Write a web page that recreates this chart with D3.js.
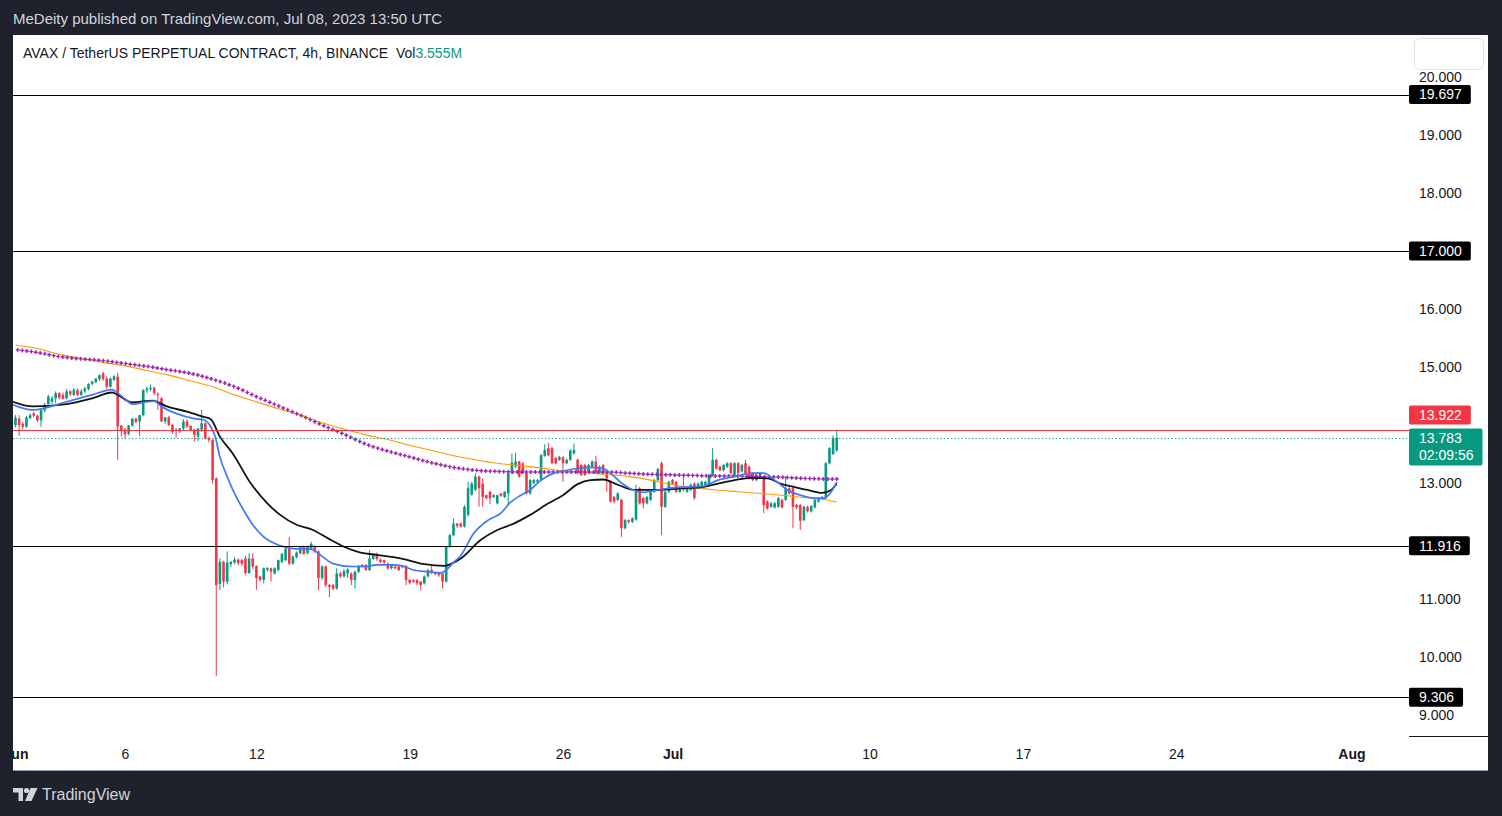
<!DOCTYPE html>
<html><head><meta charset="utf-8">
<script src="https://cdn.jsdelivr.net/npm/d3@7"></script>
<style>
html,body{margin:0;padding:0;background:#1f222d;overflow:hidden}
svg{display:block}
text{font-family:"Liberation Sans",Arial,sans-serif}
</style></head><body>
<svg id="c" width="1502" height="816"></svg>
<script>
// ---------------- DATA ----------------
const startTime = "2023-06-01T00:00:00Z";   // first 4h candle
// 4h candles: [open, high, low, close]
const candles = [
[14.00,14.17,13.96,14.13],[14.11,14.17,13.81,14.00],[14.02,14.05,13.93,13.97],[13.97,14.16,13.95,14.13],
[14.12,14.20,14.10,14.17],[14.20,14.23,14.13,14.16],[14.16,14.18,14.05,14.08],[14.08,14.28,13.97,14.26],
[14.25,14.38,14.22,14.35],[14.36,14.52,14.34,14.49],[14.40,14.50,14.36,14.46],[14.46,14.58,14.38,14.55],
[14.55,14.57,14.44,14.47],[14.52,14.56,14.44,14.45],[14.46,14.62,14.44,14.58],[14.58,14.60,14.50,14.53],
[14.52,14.64,14.50,14.61],[14.60,14.63,14.50,14.52],[14.52,14.62,14.50,14.58],[14.58,14.66,14.55,14.63],
[14.62,14.72,14.60,14.71],[14.71,14.76,14.68,14.75],[14.74,14.81,14.72,14.80],[14.79,14.87,14.76,14.86],
[14.89,14.92,14.76,14.79],[14.80,14.84,14.62,14.66],[14.66,14.82,14.64,14.80],[14.78,14.86,14.76,14.84],
[14.83,14.90,13.40,13.97],[13.99,14.00,13.80,13.91],[13.92,13.95,13.77,13.84],[13.85,14.00,13.82,13.99],
[13.99,14.12,13.97,14.11],[14.11,14.13,14.03,14.05],[14.06,14.17,13.81,14.17],[14.17,14.62,14.15,14.60],
[14.60,14.66,14.55,14.63],[14.62,14.70,14.58,14.64],[14.64,14.66,14.52,14.55],[14.54,14.56,14.26,14.52],
[14.46,14.48,14.05,14.06],[14.06,14.14,14.02,14.13],[14.13,14.16,13.98,14.00],[14.00,14.02,13.85,13.88],
[13.92,13.95,13.78,13.90],[13.89,13.95,13.86,13.94],[13.94,14.10,13.90,14.06],[14.06,14.10,13.95,13.97],
[13.98,14.00,13.90,13.91],[13.92,13.94,13.71,13.83],[13.80,13.95,13.72,13.94],[13.92,14.26,13.88,14.03],
[14.03,14.05,13.75,13.77],[13.78,13.80,13.70,13.74],[13.74,13.77,12.99,13.05],[13.08,13.10,9.67,11.24],
[11.26,11.70,11.15,11.64],[11.64,11.66,11.20,11.30],[11.30,11.82,11.25,11.63],[11.60,11.66,11.55,11.64],
[11.63,11.72,11.60,11.68],[11.68,11.70,11.58,11.62],[11.67,11.69,11.57,11.61],[11.70,11.74,11.42,11.45],
[11.45,11.79,11.43,11.70],[11.70,11.79,11.52,11.56],[11.57,11.58,11.16,11.36],[11.39,11.40,11.30,11.33],
[11.33,11.54,11.27,11.53],[11.50,11.55,11.47,11.53],[11.53,11.54,11.30,11.47],[11.44,11.55,11.42,11.53],
[11.50,11.68,11.48,11.67],[11.64,11.79,11.62,11.78],[11.67,11.90,11.65,11.87],[11.87,12.07,11.58,11.61],
[11.61,11.75,11.59,11.73],[11.72,11.82,11.70,11.80],[11.79,11.92,11.77,11.90],[11.90,11.92,11.76,11.78],
[11.79,11.92,11.77,11.90],[11.87,11.99,11.85,11.95],[11.90,11.93,11.80,11.82],[11.82,11.84,11.15,11.36],
[11.36,11.58,11.33,11.56],[11.56,11.58,11.20,11.24],[11.24,11.26,11.03,11.21],[11.24,11.26,11.15,11.18],
[11.18,11.53,11.16,11.44],[11.44,11.47,11.36,11.39],[11.39,11.52,11.37,11.48],[11.44,11.53,11.36,11.51],
[11.44,11.46,11.24,11.33],[11.33,11.49,11.18,11.47],[11.47,11.59,11.45,11.57],[11.59,11.60,11.54,11.56],
[11.59,11.60,11.48,11.50],[11.50,11.84,11.48,11.70],[11.69,11.78,11.67,11.76],[11.78,11.80,11.66,11.69],
[11.68,11.70,11.62,11.64],[11.67,11.68,11.60,11.63],[11.61,11.63,11.50,11.53],[11.53,11.60,11.51,11.59],
[11.56,11.57,11.51,11.53],[11.56,11.57,11.48,11.50],[11.55,11.58,11.53,11.57],[11.57,11.59,11.24,11.33],
[11.33,11.34,11.25,11.28],[11.33,11.34,11.28,11.30],[11.33,11.34,11.24,11.27],[11.30,11.31,11.15,11.24],
[11.27,11.41,11.25,11.39],[11.39,11.52,11.37,11.50],[11.50,11.59,11.43,11.45],[11.46,11.47,11.41,11.43],
[11.45,11.46,11.38,11.41],[11.44,11.45,11.18,11.30],[11.30,11.92,11.28,11.90],[11.90,12.12,11.88,12.10],
[12.10,12.39,12.08,12.30],[12.30,12.31,12.22,12.26],[12.30,12.32,12.23,12.25],[12.25,12.62,12.23,12.59],
[12.45,13.02,12.42,12.91],[12.80,13.02,12.78,12.99],[12.88,13.17,12.86,13.11],[13.11,13.13,12.59,12.91],
[12.99,13.08,12.59,12.76],[12.79,12.80,12.72,12.74],[12.85,12.86,12.64,12.74],[12.76,12.81,12.74,12.79],
[12.65,12.80,12.63,12.79],[12.82,12.83,12.76,12.78],[12.76,12.86,12.74,12.85],[12.82,13.18,12.62,13.17],
[13.17,13.51,13.15,13.35],[13.28,13.52,13.26,13.37],[13.37,13.38,13.09,13.11],[13.34,13.36,13.15,13.17],
[13.17,13.19,12.80,12.82],[12.82,13.07,12.80,13.05],[13.00,13.07,12.98,13.05],[13.02,13.07,13.00,13.05],
[13.05,13.50,13.03,13.48],[13.47,13.67,13.45,13.57],[13.60,13.69,13.46,13.48],[13.60,13.62,13.32,13.34],
[13.43,13.45,13.32,13.34],[13.40,13.47,13.38,13.45],[13.44,13.46,13.02,13.34],[13.34,13.42,13.32,13.40],
[13.40,13.58,13.38,13.56],[13.51,13.68,13.49,13.57],[13.40,13.42,13.15,13.17],[13.31,13.33,13.12,13.14],
[13.31,13.33,13.12,13.14],[13.19,13.33,13.17,13.31],[13.28,13.39,13.26,13.37],[13.37,13.47,13.15,13.17],
[13.17,13.30,13.15,13.28],[13.31,13.33,13.15,13.17],[13.22,13.24,12.85,13.08],[13.02,13.04,12.66,12.68],
[12.76,12.78,12.65,12.68],[12.71,12.84,12.69,12.82],[12.71,12.73,12.07,12.22],[12.22,12.38,12.20,12.36],
[12.36,12.37,12.30,12.33],[12.33,12.41,12.31,12.39],[12.37,12.97,12.35,12.88],[12.91,12.93,12.63,12.65],
[12.74,12.76,12.56,12.65],[12.65,12.78,12.63,12.76],[12.71,12.87,12.69,12.85],[12.85,13.07,12.83,13.05],
[13.05,13.26,13.03,13.24],[13.34,13.37,12.10,12.59],[12.59,12.87,12.57,12.85],[12.85,13.04,12.83,13.02],
[13.05,13.07,12.97,12.99],[13.02,13.04,12.83,12.85],[12.85,12.93,12.83,12.91],[12.91,13.11,12.86,12.88],
[12.85,12.93,12.83,12.91],[12.88,12.99,12.86,12.97],[12.99,13.01,12.71,12.74],[12.91,13.01,12.89,12.99],
[12.94,13.04,12.92,13.02],[12.97,13.04,12.95,13.02],[12.97,13.16,12.95,13.14],[13.14,13.60,13.12,13.40],
[13.40,13.42,13.23,13.25],[13.28,13.30,13.20,13.22],[13.22,13.33,13.20,13.31],[13.28,13.36,13.26,13.34],
[13.34,13.36,13.15,13.17],[13.14,13.36,13.12,13.34],[13.34,13.36,13.15,13.17],[13.20,13.33,13.18,13.31],
[13.34,13.40,13.15,13.17],[13.28,13.30,13.06,13.08],[13.17,13.19,13.03,13.05],[13.05,13.16,13.03,13.14],
[13.11,13.19,13.09,13.17],[13.11,13.13,12.48,12.62],[12.68,12.70,12.54,12.56],[12.59,12.67,12.57,12.65],
[12.58,12.67,12.56,12.65],[12.59,12.76,12.57,12.74],[12.71,12.73,12.56,12.58],[12.71,13.11,12.69,12.91],
[12.91,12.93,12.80,12.82],[12.91,12.93,12.22,12.59],[12.62,12.64,12.55,12.58],[12.62,12.64,12.19,12.35],
[12.36,12.61,12.34,12.59],[12.59,12.61,12.49,12.51],[12.51,12.62,12.49,12.60],[12.58,12.73,12.56,12.71],
[12.68,12.76,12.66,12.74],[12.74,12.78,12.72,12.76],[12.74,13.36,12.72,13.34],[13.34,13.62,13.32,13.60],
[13.50,13.82,13.48,13.77],[13.56,13.92,13.54,13.78]
];
// fast moving average (blue): [candle index, value]
const fastMA = [[-0.7,14.35],[4.7,14.26],[14,14.40],[21,14.52],[26.5,14.61],[28,14.55],[30,14.45],[32,14.36],[36,14.40],[38,14.41],[40,14.32],[44,14.20],[49,14.11],[51.5,14.09],[53.5,13.97],[54.7,13.80],[56,13.45],[58,13.11],[60,12.82],[62.5,12.53],[65,12.28],[68,12.07],[72,11.93],[76,11.87],[81,11.86],[83.5,11.76],[87,11.61],[92,11.56],[96,11.56],[99,11.59],[103.5,11.59],[106,11.57],[109,11.50],[113,11.47],[116.5,11.45],[118.5,11.53],[120,11.63],[122,11.75],[125.5,12.13],[129.5,12.36],[133,12.48],[135.5,12.66],[138.5,12.79],[141,12.88],[144,13.05],[147.5,13.17],[151,13.22],[154,13.25],[157.5,13.27],[160.5,13.26],[163,13.17],[166,13.00],[168.5,12.90],[172,12.84],[175,12.87],[179,12.91],[183,12.93],[188,12.94],[192.5,13.05],[197,13.11],[201.5,13.17],[205,13.17],[208,13.05],[211.5,12.88],[215,12.79],[219,12.74],[221.5,12.74],[223.5,12.85],[225,13.02]];
// slow moving average (black): [candle index, value]
const slowMA = [[-0.7,14.40],[4.7,14.32],[14,14.36],[21,14.46],[26.5,14.56],[28,14.52],[32,14.39],[37.5,14.42],[41.5,14.32],[47,14.23],[51.5,14.14],[53.5,14.10],[56,13.80],[59.5,13.51],[64.5,12.99],[69,12.65],[72.5,12.45],[77,12.28],[81.5,12.19],[85.5,12.05],[90,11.90],[94.5,11.80],[99,11.76],[105.5,11.70],[112,11.60],[117.5,11.57],[119.5,11.61],[122,11.70],[127.5,12.02],[132,12.19],[136.5,12.30],[141,12.45],[146,12.65],[150,12.79],[154,12.98],[157.5,13.05],[161,13.06],[165,12.97],[169.5,12.88],[174,12.88],[179,12.89],[183,12.91],[188,12.93],[192.5,12.99],[197,13.05],[201.5,13.09],[206,13.08],[210,12.98],[213.5,12.93],[217,12.88],[221,12.83],[223.5,12.88],[225,12.99]];
// orange daily average, one value per day (Jun 1 .. Jul 8) + last candle
const orangeMA = [15.38,15.32,15.22,15.15,15.08,15.02,14.94,14.86,14.76,14.66,14.52,14.40,14.28,14.17,14.04,13.93,13.83,13.75,13.65,13.56,13.47,13.40,13.34,13.30,13.26,13.21,13.18,13.15,13.11,13.05,12.97,12.92,12.88,12.85,12.82,12.79,12.75,12.71,12.67];
// purple (cross-marked) daily average, one value per day + last candle
const purpleMA = [15.30,15.25,15.18,15.14,15.11,15.06,15.01,14.95,14.89,14.79,14.66,14.49,14.33,14.17,14.00,13.84,13.67,13.55,13.45,13.35,13.27,13.22,13.20,13.19,13.19,13.19,13.19,13.19,13.17,13.15,13.14,13.13,13.12,13.12,13.11,13.10,13.08,13.07,13.07];
const levels = [19.697, 17.000, 11.916, 9.306];
const alertLevel = 13.922;
const lastPrice = 13.783;
const countdown = "02:09:56";
const priceTicks = [9,10,11,13,15,16,17,18,19,20];
const timeTicks = ["2023-06-01","2023-06-06","2023-06-12","2023-06-19","2023-06-26","2023-07-01","2023-07-10","2023-07-17","2023-07-24","2023-08-01"];
const timeTickLabels = ["Jun","6","12","19","26","Jul","10","17","24","Aug"];
const monthTicks = ["Jun","Jul","Aug"];
const titleText = "MeDeity published on TradingView.com, Jul 08, 2023 13:50 UTC";
const symbolText = "AVAX / TetherUS PERPETUAL CONTRACT, 4h, BINANCE";
const volText = "3.555M";

// ---------------- CHART ----------------
const DAY = 864e5, H4 = 4 * 3600e3;
const t0 = new Date(startTime).getTime();
const GREEN = "#089981", RED = "#f23645", INK = "#131722";
const P = {l: 13, r: 1409, t: 35, b: 736, panelR: 1488, panelB: 771};

const svg = d3.select("#c");
const x = d3.scaleUtc()
  .domain([new Date(t0 - 0.114 * DAY), new Date(t0 + 63.63 * DAY)])
  .range([P.l, P.r]);
const y = d3.scaleLinear().domain([9, 20]).range([715, 77]);
const tAt = i => new Date(t0 + i * H4);

svg.append("rect").attr("width", 1502).attr("height", 816).attr("fill", "#1f222d");
svg.append("text").attr("x", 13).attr("y", 24).attr("fill", "#d1d4dc")
  .attr("font-size", 15).text(titleText);

svg.append("rect").attr("x", P.l).attr("y", P.t).attr("width", P.panelR - P.l)
  .attr("height", P.panelB - P.t).attr("fill", "#fff");
svg.append("line").attr("x1", P.l).attr("x2", P.panelR).attr("y1", P.panelB - 0.5).attr("y2", P.panelB - 0.5)
  .attr("stroke", "#9598a1");

const defs = svg.append("defs");
defs.append("clipPath").attr("id", "plotclip").append("rect")
  .attr("x", P.l).attr("y", P.t).attr("width", P.r - P.l).attr("height", P.b - P.t);
defs.append("clipPath").attr("id", "timeclip").append("rect")
  .attr("x", P.l).attr("y", 0).attr("width", P.r - P.l).attr("height", P.panelB - P.b);

const plot = svg.append("g").attr("clip-path", "url(#plotclip)");

// candles
const cw = 2.6;
const cg = plot.append("g");
candles.forEach((c, i) => {
  const [o, h, l, cl] = c;
  const cx = x(tAt(i));
  const col = cl >= o ? GREEN : RED;
  cg.append("line").attr("x1", cx).attr("x2", cx).attr("y1", y(h)).attr("y2", y(l))
    .attr("stroke", col).attr("stroke-width", 1);
  const top = y(Math.max(o, cl)), bot = y(Math.min(o, cl));
  cg.append("rect").attr("x", cx - cw / 2).attr("y", top).attr("width", cw)
    .attr("height", Math.max(1, bot - top)).attr("fill", col);
});

// orange daily MA
const dayPts = arr => arr.map((v, d) => [d < arr.length - 1 ? new Date(t0 + d * DAY) : tAt(candles.length - 1), v]);
plot.append("path").datum(dayPts(orangeMA))
  .attr("d", d3.line().x(d => x(d[0])).y(d => y(d[1])).curve(d3.curveMonotoneX))
  .attr("fill", "none").attr("stroke", "#ff9800").attr("stroke-width", 1.1);

// purple cross-marked MA: cross markers spaced along the line
const purplePath = plot.append("path").datum(dayPts(purpleMA))
  .attr("d", d3.line().x(d => x(d[0])).y(d => y(d[1])).curve(d3.curveMonotoneX))
  .attr("fill", "none").attr("stroke", "none");
const pnode = purplePath.node();
const plen = pnode.getTotalLength();
function yOnPath(tx) {
  let lo = 0, hi = plen;
  for (let k = 0; k < 30; k++) {
    const mid = (lo + hi) / 2;
    if (pnode.getPointAtLength(mid).x < tx) lo = mid; else hi = mid;
  }
  return pnode.getPointAtLength(lo).y;
}
const crossG = plot.append("g").attr("stroke", "#9c27b0").attr("stroke-width", 1.4);
const xEnd = x(tAt(candles.length - 1)), xStart = x(new Date(t0)) - 2, step = 4.5;
for (let cx = xEnd; cx >= xStart; cx -= step) {
  const cy = yOnPath(cx), s = 2;
  crossG.append("path").attr("d", `M${cx - s},${cy}H${cx + s}M${cx},${cy - s}V${cy + s}`);
}

// black & blue MAs
const maLine = d3.line().x(d => x(tAt(d[0]))).y(d => y(d[1])).curve(d3.curveMonotoneX);
plot.append("path").datum(slowMA).attr("d", maLine).attr("fill", "none")
  .attr("stroke", "#131313").attr("stroke-width", 1.8);
plot.append("path").datum(fastMA).attr("d", maLine).attr("fill", "none")
  .attr("stroke", "#4277f7").attr("stroke-width", 1.7);

// horizontal drawings
levels.forEach(v => {
  svg.append("line").attr("x1", P.l).attr("x2", P.r).attr("y1", Math.round(y(v)) + 0.5).attr("y2", Math.round(y(v)) + 0.5)
    .attr("stroke", "#000").attr("stroke-width", 1.2);
});
svg.append("line").attr("x1", P.l).attr("x2", P.r).attr("y1", Math.round(y(alertLevel)) + 0.5).attr("y2", Math.round(y(alertLevel)) + 0.5)
  .attr("stroke", RED).attr("stroke-width", 1);
svg.append("line").attr("x1", P.l).attr("x2", P.r).attr("y1", Math.round(y(lastPrice)) + 0.5).attr("y2", Math.round(y(lastPrice)) + 0.5)
  .attr("stroke", GREEN).attr("stroke-width", 1.2).attr("stroke-dasharray", "1.2,2.3");

// legend text
const leg = svg.append("text").attr("x", 23).attr("y", 58).attr("font-size", 14).attr("fill", INK);
leg.append("tspan").text(symbolText + "\u00a0\u00a0Vol");
leg.append("tspan").attr("fill", GREEN).text(volText);

// top right button outline
svg.append("rect").attr("x", 1414.5).attr("y", 38.5).attr("width", 69).attr("height", 31).attr("rx", 5)
  .attr("fill", "#fff").attr("stroke", "#e0e3eb");

// price axis
const yAxis = svg.append("g").attr("transform", `translate(${P.r},0)`)
  .call(d3.axisRight(y).tickValues(priceTicks).tickFormat(d3.format(".3f")).tickSize(0).tickPadding(10));
yAxis.select(".domain").remove();
yAxis.selectAll("text").attr("font-size", 14).attr("fill", INK).attr("font-family", "Liberation Sans, Arial, sans-serif");
svg.append("line").attr("x1", P.r).attr("x2", P.panelR).attr("y1", P.b + 0.5).attr("y2", P.b + 0.5)
  .attr("stroke", "#131722").attr("stroke-width", 1);

// time axis
const xAxis = svg.append("g").attr("transform", `translate(0,${P.b})`).attr("clip-path", "url(#timeclip)")
  .call(d3.axisBottom(x).tickValues(timeTicks.map(s => new Date(s + "T00:00:00Z")))
    .tickFormat((d, i) => timeTickLabels[i]).tickSize(0).tickPadding(13));
xAxis.select(".domain").remove();
xAxis.selectAll("text").attr("font-size", 14).attr("fill", INK).attr("font-family", "Liberation Sans, Arial, sans-serif")
  .attr("font-weight", (d, i) => monthTicks.includes(timeTickLabels[i]) ? "bold" : "normal");

// price label boxes
function labelBox(v, fill, yc, lines) {
  const g = svg.append("g");
  const bh = 18 * lines.length + 1;
  const rect = g.append("rect").attr("x", P.r).attr("y", yc - 9.5).attr("height", bh).attr("rx", 2).attr("fill", fill);
  let w = 0;
  lines.forEach((t, k) => {
    const tx = g.append("text").attr("x", P.r + 10).attr("y", yc + k * 17.5).attr("dy", "0.35em")
      .attr("font-size", 14).attr("fill", "#fff").text(t);
    w = Math.max(w, tx.node().getComputedTextLength());
  });
  rect.attr("width", w + 19);
}
levels.forEach(v => labelBox(v, "#000", y(v), [d3.format(".3f")(v)]));
const greenTop = y(lastPrice) - 11.5;
labelBox(lastPrice, GREEN, y(lastPrice) + 0.5, [d3.format(".3f")(lastPrice), countdown]);
labelBox(alertLevel, RED, greenTop - 11, [d3.format(".3f")(alertLevel)]);

// footer logo
const lg = svg.append("g").attr("fill", "#d1d4dc");
lg.append("path").attr("d", "M13,788H23V801H18.5V792.5H13Z");
lg.append("circle").attr("cx", 26.5).attr("cy", 790.5).attr("r", 2.6);
lg.append("path").attr("d", "M30.5,788H37.5L31.5,801H25Z");
svg.append("text").attr("x", 42).attr("y", 800).attr("font-size", 16).attr("fill", "#d1d4dc").text("TradingView");
</script>
</body></html>
